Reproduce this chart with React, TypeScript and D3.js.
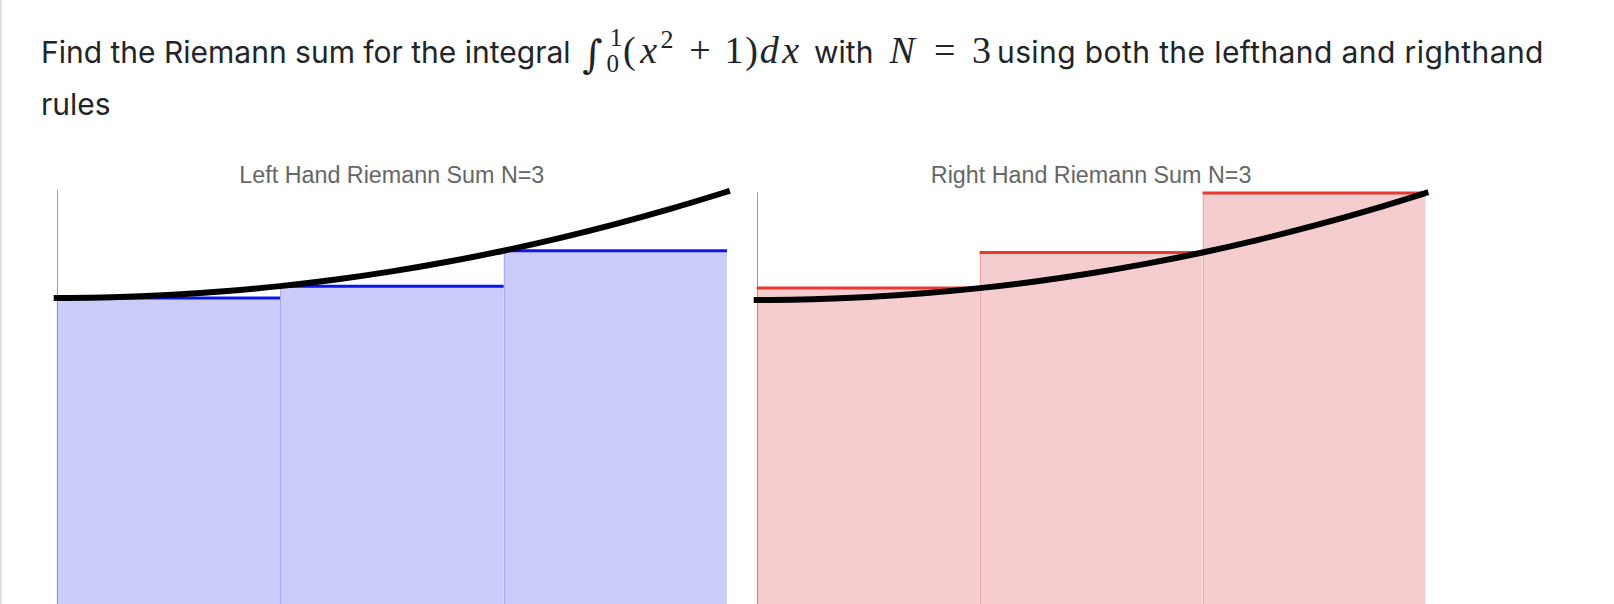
import React from 'react';
import * as d3 from 'd3';

const W = 1614;
const H = 604;

// Subintervals of [0, 1] with N = 3
const intervalStarts = [0, 0.3333, 0.6667];
const intervalEnds = [0.3333, 0.6667, 1];
// Rectangle heights
const leftHeights = [1, 1.1111, 1.4444];
const rightHeights = [1.1111, 1.4444, 2];
// Curve f(x) = x^2 + 1 sampled points
const curveX = [0, 0.0833, 0.1667, 0.25, 0.3333, 0.4167, 0.5, 0.5833, 0.6667, 0.75, 0.8333, 0.9167, 1];
const curveY = [1, 1.0069, 1.0278, 1.0625, 1.1111, 1.1736, 1.25, 1.3403, 1.4444, 1.5625, 1.6944, 1.8403, 2];
const chartTitles = ['Left Hand Riemann Sum N=3', 'Right Hand Riemann Sum N=3'];

type ChartProps = {
  title: string;
  heights: number[];
  left: number;
  right: number;
  top: number;
  bottom: number;
  yMin: number;
  yMax: number;
  fill: string;
  edge: string;
  line: string;
};

function RiemannChart(p: ChartProps) {
  const x = d3.scaleLinear().domain([0, 1]).range([p.left, p.right]);
  const y = d3.scaleLinear().domain([p.yMin, p.yMax]).range([p.bottom, p.top]);
  const pts = curveX.map((v, i) => [v, curveY[i]] as [number, number]);
  const path = d3
    .line<[number, number]>()
    .x((d) => x(d[0]))
    .y((d) => y(d[1]))
    .curve(d3.curveMonotoneX)(pts) as string;
  return (
    <g>
      <text
        x={(p.left + p.right) / 2}
        y={183}
        textAnchor="middle"
        fontFamily="'Liberation Sans', Arial, sans-serif"
        fontSize={23.3}
        fill="#666"
      >
        {p.title}
      </text>
      {p.heights.map((h, i) => (
        <rect
          key={'r' + i}
          x={x(intervalStarts[i])}
          y={y(h)}
          width={x(intervalEnds[i]) - x(intervalStarts[i])}
          height={y(p.yMin) - y(h)}
          fill={p.fill}
        />
      ))}
      {p.heights.slice(1).map((h, i) => (
        <line
          key={'e' + i}
          x1={Math.round(x(intervalStarts[i + 1])) + 0.5}
          x2={Math.round(x(intervalStarts[i + 1])) + 0.5}
          y1={y(Math.max(h, p.heights[i]))}
          y2={y(p.yMin)}
          stroke={p.edge}
          strokeWidth={1}
        />
      ))}
      <line
        x1={Math.round(p.left) + 0.5}
        x2={Math.round(p.left) + 0.5}
        y1={p.top}
        y2={y(p.yMin)}
        stroke="#9a9a9a"
        strokeWidth={1}
      />
      {p.heights.map((h, i) => (
        <line
          key={'t' + i}
          x1={x(intervalStarts[i])}
          x2={x(intervalEnds[i])}
          y1={y(h)}
          y2={y(h)}
          stroke={p.line}
          strokeWidth={3}
        />
      ))}
      <path d={path} fill="none" stroke="#000" strokeWidth={6} strokeLinecap="square" />
    </g>
  );
}

const sans = "Inter, 'Noto Sans', sans-serif";
const serif = "'Liberation Serif', 'DejaVu Serif', serif";
const ink = '#212529';
const EM = 40; // math em in px

type G = { t: string; s: number; w: number; it?: boolean; size: number; base: number; font?: string };

function MathRun({ x0, glyphs }: { x0: number; glyphs: G[] }) {
  return (
    <g>
      {glyphs.map((g, i) => (
        <text
          key={i}
          x={x0 + (g.s + g.w / 2) * EM}
          y={g.base}
          textAnchor="middle"
          fontFamily={g.font || serif}
          fontSize={g.size}
          fontStyle={g.it ? 'italic' : 'normal'}
        >
          {g.t}
        </text>
      ))}
    </g>
  );
}

const integralGlyphs: G[] = [
  { t: '∫', s: 0, w: 0.42, size: 39, base: 68, font: "'DejaVu Serif', serif", it: true },
  { t: '1', s: 0.64, w: 0.32, size: 25, base: 46 },
  { t: '0', s: 0.56, w: 0.32, size: 25, base: 72 },
  { t: '(', s: 0.94, w: 0.389, size: 38, base: 63 },
  { t: 'x', s: 1.329, w: 0.572, it: true, size: 38, base: 63 },
  { t: '2', s: 1.901, w: 0.35, size: 26, base: 48 },
  { t: '+', s: 2.513, w: 0.778, size: 38, base: 63 },
  { t: '1', s: 3.503, w: 0.5, size: 38, base: 63 },
  { t: ')', s: 3.993, w: 0.389, size: 38, base: 63 },
  { t: 'd', s: 4.372, w: 0.52, it: true, size: 38, base: 63 },
  { t: 'x', s: 4.882, w: 0.572, it: true, size: 38, base: 63 },
];

const eqGlyphs: G[] = [
  { t: 'N', s: 0, w: 0.803, it: true, size: 38, base: 63 },
  { t: '=', s: 1.081, w: 0.778, size: 38, base: 63 },
  { t: '3', s: 2.137, w: 0.5, size: 38, base: 63 },
];

export default function App() {
  return (
    <svg
      width={W}
      height={H}
      style={{ position: 'absolute', left: 0, top: 0, background: '#fff' }}
    >
      <rect x={0} y={0} width={2} height={H} fill="#e2e2e2" />
      <g fill={ink}>
        <text x={41} y={63} fontFamily={sans} fontSize={30}>
          Find the Riemann sum for the integral
        </text>
        <MathRun x0={584} glyphs={integralGlyphs} />
        <text x={814} y={63} fontFamily={sans} fontSize={30}>with</text>
        <MathRun x0={886} glyphs={eqGlyphs} />
        <text x={997} y={63} fontFamily={sans} fontSize={30} letterSpacing={0.4}>
          using both the lefthand and righthand
        </text>
        <text x={41} y={115} fontFamily={sans} fontSize={30}>rules</text>
      </g>
      <RiemannChart
        title={chartTitles[0]}
        heights={leftHeights}
        left={56.7}
        right={727}
        top={190}
        bottom={606}
        yMin={-1.9}
        yMax={2.016}
        fill="#ccccfa"
        edge="#a9abf3"
        line="#0b16ee"
      />
      <RiemannChart
        title={chartTitles[1]}
        heights={rightHeights}
        left={756.7}
        right={1425.5}
        top={192.3}
        bottom={610.3}
        yMin={-1.9}
        yMax={2.0065}
        fill="#f6cdce"
        edge="#f0a9a9"
        line="#e8392f"
      />
    </svg>
  );
}
